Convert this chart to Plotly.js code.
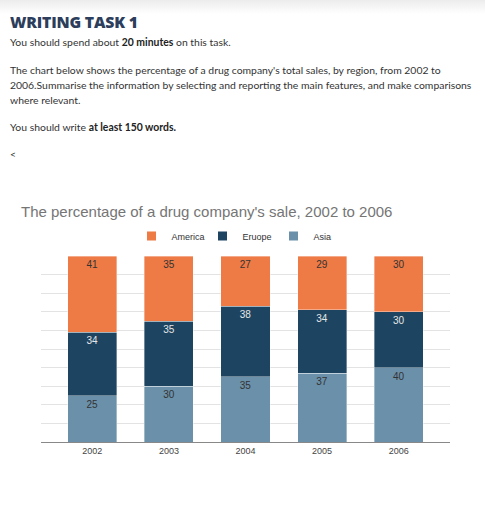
<!DOCTYPE html>
<html>
<head>
<meta charset="utf-8">
<script src="https://cdn.plot.ly/plotly-3.0.1.min.js"></script>
<style>
  html, body { margin:0; padding:0; background:#fff; width:485px; height:512px; overflow:hidden; }
  #topfade { position:absolute; left:0; top:0; width:485px; height:14px; z-index:3;
             background:linear-gradient(#ececec, rgba(255,255,255,0)); pointer-events:none; }
  #text { position:absolute; left:10px; top:0; z-index:4; pointer-events:none; color:#333;
          font-family:Lato, "Noto Sans", sans-serif; font-size:10.4px; white-space:nowrap; }
  #text h1 { position:absolute; top:11px; left:0; margin:0; font-family:"Open Sans", Lato, sans-serif;
             font-weight:800; font-size:15.8px; color:#2c3e5b; letter-spacing:-0.2px; }
  #text .l { position:absolute; left:0; line-height:15px; }
  #text b { font-weight:700; color:#222; }
  #chart { position:absolute; left:0; top:0; width:485px; height:512px; z-index:1; }
</style>
</head>
<body>
<div id="topfade"></div>
<div id="text">
  <h1>WRITING TASK 1</h1>
  <div class="l" style="top:35px">You should spend about <b>20 minutes</b> on this task.</div>
  <div class="l" style="top:63px">The chart below shows the percentage of a drug company's total sales, by region, from 2002 to<br>2006.Summarise the information by selecting and reporting the main features, and make comparisons<br>where relevant.</div>
  <div class="l" style="top:120px">You should write <b>at least 150 words.</b></div>
  <div class="l" style="top:147px">&lt;</div>
</div>
<div id="chart"></div>
<script>
const years = ['2002', '2003', '2004', '2005', '2006'];
const asia = [25, 30, 35, 37, 40];
const europe = [34, 35, 38, 34, 30];
const america = [41, 35, 27, 29, 30];
const seriesNames = ['America', 'Eruope', 'Asia'];
const seriesColors = ['#ee7a45', '#1d4562', '#6a90aa'];
const labelColors = ['#333333', '#e6e6e6', '#333333'];

function barTrace(vals, idx) {
  return {
    type: 'bar', x: years, y: vals, name: seriesNames[idx],
    marker: { color: seriesColors[idx], line: { color: 'rgba(255,255,255,0.6)', width: 0.6 } },
    text: vals.map(String), textposition: 'inside', insidetextanchor: 'end',
    textangle: 0, constraintext: 'none',
    insidetextfont: { family: 'Liberation Sans, Arial, sans-serif', size: 10, color: labelColors[idx] },
    showlegend: false, hoverinfo: 'skip', width: 0.64
  };
}
function legendTrace(idx) {
  return {
    type: 'scatter', mode: 'markers', x: [null], y: [null], name: seriesNames[idx],
    marker: { symbol: 'square', size: 9, color: seriesColors[idx] }, showlegend: true
  };
}

const data = [
  barTrace(asia, 2), barTrace(europe, 1), barTrace(america, 0),
  legendTrace(0), legendTrace(1), legendTrace(2)
];

const layout = {
  width: 485, height: 512,
  margin: { l: 40.7, r: 35, t: 256, b: 70.3 },
  paper_bgcolor: '#ffffff', plot_bgcolor: '#ffffff',
  barmode: 'stack',
  font: { family: 'Liberation Sans, Arial, sans-serif', color: '#444' },
  title: {
    text: "The percentage of a drug company's sale, 2002 to 2006",
    font: { family: 'Liberation Sans, Arial, sans-serif', size: 15, color: '#757575' },
    xref: 'container', x: 21 / 485, xanchor: 'left',
    yref: 'container', y: 1 - 212 / 512, yanchor: 'middle'
  },
  legend: {
    orientation: 'h', xref: 'container', x: 238 / 485, xanchor: 'center',
    yref: 'container', y: 1 - 236 / 512, yanchor: 'middle',
    font: { size: 9, color: '#333' }, traceorder: 'normal', itemclick: false,
    entrywidth: 26, entrywidthmode: 'pixels'
  },
  xaxis: {
    type: 'category', range: [-0.67, 4.67], showgrid: false, zeroline: false,
    showline: true, linecolor: '#888888', linewidth: 1, ticks: '',
    tickfont: { size: 9, color: '#444' }, fixedrange: true
  },
  yaxis: {
    range: [0, 100], dtick: 10, showticklabels: false, ticks: '',
    gridcolor: '#e3e3e3', gridwidth: 1, zeroline: false, fixedrange: true
  },
  showlegend: true
};

Plotly.newPlot('chart', data, layout, { displayModeBar: false, staticPlot: true });
</script>
</body>
</html>
